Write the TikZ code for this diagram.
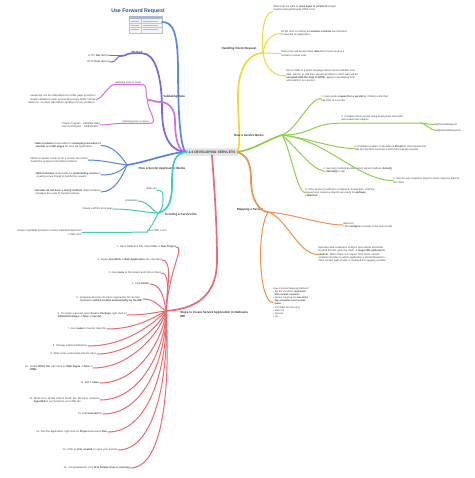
\documentclass[tikz,border=0pt]{standalone}
\usepackage{fontspec}
\setmainfont{Liberation Sans}
\definecolor{cblue}{HTML}{5B86E5}
\definecolor{cpurple}{HTML}{7468E0}
\definecolor{cmag}{HTML}{D670E0}
\definecolor{cblue2}{HTML}{5A82E0}
\definecolor{cteal}{HTML}{40CDB4}
\definecolor{cred}{HTML}{E86A72}
\definecolor{cyel}{HTML}{F0D83A}
\definecolor{cgreen}{HTML}{8DD14A}
\definecolor{corange}{HTML}{F2904F}
\definecolor{ftitle}{HTML}{2F5196}
\begin{document}
\begin{tikzpicture}[x=1pt,y=-1pt,
  every node/.style={inner sep=0.3pt, outer sep=0pt},
  ctext/.style={font=\fontsize{2.6}{3.3}\selectfont, align=left, text=#1},
  ctext/.default=black!75,
  stext/.style={font=\fontsize{2.4}{3.1}\selectfont, align=left, text=#1},
  stext/.default=black!75,
  lbl/.style={font=\fontsize{3}{3.6}\selectfont\bfseries, text=black!80},
  bline/.style={line width=1.7pt, line cap=round},
  cline/.style={line width=1.0pt, line cap=round}]
\useasboundingbox (0,0) rectangle (474,478);
\fill[white] (0,0) rectangle (474,478);

% ---------- centre ----------
\node[fill=gray!22, draw=gray!45, rounded corners=1pt, font=\fontsize{3.4}{4}\selectfont\bfseries, text=black!75, inner xsep=2pt, inner ysep=2pt] (C) at (212,152) {2.4 DEVELOPING SERVLETS};

% ---------- Use Forward Request ----------
\node[font=\fontsize{5.2}{6}\selectfont\bfseries, text=ftitle] (fwd) at (138,11) {Use Forward Request};
\node[draw=gray!50, fill=gray!8, minimum width=33pt, minimum height=17pt, anchor=north west] (tbl) at (129,16) {};
\fill[ftitle!40] (129.3,16.3) rectangle (161.7,19.5);
\foreach \yy in {23.5,27.5} \draw[gray!45, line width=0.3pt] (129,\yy) -- (162,\yy);
\draw[gray!45, line width=0.3pt] (141,19.5) -- (141,33);
\foreach \yy in {21.5,25.5,29.5} {
  \fill[gray!55] (130.5,\yy-0.4) rectangle (139,\yy+0.4);
  \fill[gray!55] (142.5,\yy-0.4) rectangle (158,\yy+0.4);}
\draw[bline,cblue] ([yshift=2.5pt]tbl.east) .. controls +(10,0) and +(0,-40) .. (178,70) .. controls +(0,45) and +(-6,0) .. (C.west);

% ---------- Method ----------
\node[lbl] (meth) at (137,52) {Method};
\coordinate (mj) at (121,56);
\draw[bline,cpurple] (C.west) .. controls +(-14,0) and +(0,30) .. (162,110) .. controls +(0,-35) and +(12,0) .. (meth.south east) -- (meth.south west) .. controls +(-5,0) and +(5,0) .. (mj);
\node[ctext, anchor=east] (get) at (110,56) {HTTP \textbf{Get} Method};
\node[ctext, anchor=east] (post) at (110,62) {HTTP \textbf{Post} Method};
\draw[cline,cpurple] (get.east) -- (mj);
\draw[cline,cpurple] (post.east) .. controls +(8,0) and +(-5,0) .. (mj);

% ---------- Validating Data ----------
\node[lbl] (val) at (174,97) {Validating Data};
\coordinate (vj) at (148,100);
\draw[bline,cmag] (C.west) .. controls +(-8,0) and +(0,20) .. (175,120) .. controls +(0,-12) and +(8,0) .. (160,102) .. controls +(-6,0) and +(5,0) .. (vj);
\node[stext] (vcl) at (128,83) {Validating Data on Client};
\node[ctext, align=right, anchor=east] (vct) at (96,99.5) {JavaScript can be embedded into HTML page to perform\\ simple validations such as checking empty fields, format,\\ dates etc. on client side before sending it to any problems.};
\draw[cline,cmag] (vj) .. controls +(-4,-4) and +(8,0) .. (vcl.south east) -- (vcl.south west) .. controls +(-6,0) and +(6,0) .. (vct.east);
\node[stext] (vsv) at (136,122) {Validating Data on Server};
\node[ctext, anchor=east] (vst) at (100,125) {• Check Program : Valid/Not Valid\\• Servlet Program : Valid/Invalid};
\draw[cline,cmag] (vj) .. controls +(-3,6) and +(10,0) .. (vsv.south east) -- (vsv.south west) .. controls +(-6,0) and +(6,0) .. (vst.east);

% ---------- How a Servlet Application Works ----------
\node[lbl] (app) at (162,169) {How a Servlet Application Works};
\coordinate (aj) at (127,165);
\draw[bline,cblue2] (C.west) .. controls +(-15,0) and +(20,-3) .. (aj);
\node[ctext, anchor=east] (a1) at (101,145.5) {• \textbf{Web Container} responsible for \textbf{managing execution of}\\\phantom{• }\textbf{servlets} and \textbf{JSP pages} for Java EE application.};
\node[ctext, anchor=east] (a2) at (88,160) {• When a request comes in for a servlet, the server\\\phantom{• }hands the request to the Web Container.};
\node[ctext, anchor=east] (a3) at (101,175) {• \textbf{Web Container} responsible for \textbf{instantiating servlet} or\\\phantom{• }creating a new thread to handle the request.};
\node[ctext, anchor=east] (a4) at (101,192) {• \textbf{Servlets do not have a main() method.} Web Container\\\phantom{• }manages the cycle of Servlet instance.};
\draw[cline,cblue2] (a1.east) .. controls +(12,0) and +(-5,-8) .. (aj);
\draw[cline,cblue2] (a2.east) .. controls +(15,0) and +(-10,-1) .. (aj);
\draw[cline,cblue2] (a3.east) .. controls +(14,0) and +(-6,6) .. (aj);
\draw[cline,cblue2] (a4.east) .. controls +(14,0) and +(-4,10) .. (aj);

% ---------- Creating a Servlet File ----------
\node[lbl] (csf) at (181,215) {Creating a Servlet File};
\coordinate (tj) at (158,213);
\draw[bline,cteal] (C.west) .. controls +(-12,2) and +(0,-25) .. (172,185) .. controls +(0,20) and +(8,-2) .. (tj);
\node[ctext, anchor=east] (wx) at (157,189) {Web.xml};
\draw[cline,cteal] (wx.south east) .. controls +(6,0) and +(0,-8) .. (163,200) .. controls +(0,8) and +(3,-2) .. (tj);
\node[ctext, anchor=east] (ann) at (138,201) {Annotation};
\draw[cline,cteal] (ann.east) .. controls +(10,0) and +(-8,-4) .. (tj);
\node[ctext, anchor=east] (chf) at (113,209) {Create a HTML form page};
\draw[cline,cteal] (chf.east) .. controls +(20,0) and +(-10,0) .. (tj);
\node[ctext, anchor=west] (uhf) at (147,231) {Use HTML Form};
\draw[cline,cteal] (tj) .. controls +(-3,8) and +(3,-4) .. (uhf.south west);
\node[ctext, align=right, anchor=east] (lws) at (82,232.5) {Create LoginWeb Servlet to receive submitted data from\\HTML form};
\draw[cline,cteal] (uhf.south west) .. controls +(-20,0) and +(20,0) .. (lws.east);

% ---------- Steps (red) ----------
\node[lbl, align=left, anchor=west] (steps) at (180,314.5) {Steps to Create Servlet Application in Netbeans\\IDE};
\coordinate (rj) at (166,311);
\draw[bline,cred] (C.south) .. controls +(2,30) and +(0,-40) .. (217,260) .. controls +(0,40) and +(25,-2) .. (rj);
\begin{scope}[every node/.append style={ctext=black!75, anchor=east}]
\node (s1) at (176,247) {1. Open Netbeans IDE, Select \textbf{File -> New Project}};
\node (s2) at (162,260) {2. Select \textbf{Java Web -> Web Application}, the click Next};
\node (s3) at (161,273) {3. Give \textbf{name} to the project and click on Next};
\node (s4) at (150,284) {4. Click \textbf{Finish}.};
\node (s5) at (143,299) {5. Complete directory structure required for the Servlet\\\phantom{5. }Application \textbf{will be created automatically by the IDE}.};
\node (s6) at (127,315) {6. To create a Servlet, open \textbf{Source Package}, right click on\\\textbf{Default Packages -> New -> Servlet}.};
\node (s7) at (107,329) {7. Give \textbf{name} to Servlet class file.};
\node (s8) at (88,346) {8. Change method definitions.};
\node (s9) at (97,354) {9. Write some code inside Servlet class.};
\node (s10) at (93,368) {10. Create \textbf{HTML file}, right click on \textbf{Web Pages -> New ->}\\\phantom{10. }\textbf{HTML}};
\node (s11) at (100,383) {11. Edit it \textbf{name}.};
\node (s12) at (100,400) {12. Write some simple code in HTML file. We have created a\\\phantom{12. }\textbf{hyperlink} to our Servlet in our HTML file.};
\node (s13) at (103,414) {13. Edit \textbf{web.xml} file.};
\node (s14) at (108,432) {14. Run the application, right click on \textbf{Project} and select \textbf{Run}.};
\node (s15) at (118,450) {15. Click on \textbf{first created}, to open your Servlet.};
\node (s16) at (130,468) {16. Congratulations! Your \textbf{first Servlet class is running}!};
\end{scope}
\draw[cline,cred] (s1.east) .. controls +(9,0) and +(4,-45) .. (rj);
\draw[cline,cred] (s2.east) .. controls +(9,0) and +(3,-35) .. (rj);
\draw[cline,cred] (s3.east) .. controls +(8,0) and +(2,-25) .. (rj);
\draw[cline,cred] (s4.east) .. controls +(10,0) and +(-2,-15) .. (rj);
\draw[cline,cred] (s5.east) .. controls +(12,0) and +(-8,-5) .. (rj);
\draw[cline,cred] (s6.east) .. controls +(18,0) and +(-15,2) .. (rj);
\draw[cline,cred] (s7.east) .. controls +(30,0) and +(-12,6) .. (rj);
\draw[cline,cred] (s8.east) .. controls +(40,0) and +(-10,10) .. (rj);
\draw[cline,cred] (s9.east) .. controls +(35,0) and +(-6,14) .. (rj);
\draw[cline,cred] (s10.east) .. controls +(40,0) and +(-4,18) .. (rj);
\draw[cline,cred] (s11.east) .. controls +(40,0) and +(-2,25) .. (rj);
\draw[cline,cred] (s12.east) .. controls +(45,0) and +(0,30) .. (rj);
\draw[cline,cred] (s13.east) .. controls +(45,0) and +(1,38) .. (rj);
\draw[cline,cred] (s14.east) .. controls +(45,0) and +(2,45) .. (rj);
\draw[cline,cred] (s15.east) .. controls +(40,0) and +(3,55) .. (rj);
\draw[cline,cred] (s16.east) .. controls +(35,0) and +(4,70) .. (rj);

% ---------- Handling Client Request (yellow) ----------
\node[lbl] (hcr) at (239,49) {Handling Client Request};
\coordinate (yj) at (263,53);
\draw[bline,cyel] (C.east) .. controls +(4,-10) and +(0,30) .. (238,95) .. controls +(0,-30) and +(-12,0) .. (yj);
\begin{scope}[every node/.append style={ctext=black!75, anchor=west}]
\node (y1) at (273,8.5) {Whenever we want to \textbf{send input to servlet} that input\\must be passed through HTML form.};
\node (y2) at (281,33.5) {HTML form is nothing but \textbf{various controls} are inherited\\to develop an application.};
\node (y3) at (281,53.5) {Every form will accept client \textbf{data} that it must send to a\\servlet on server side.};
\node (y4) at (286,76) {Since HTML is a static language which cannot validate user\\data. Hence, in real time JavaScript which is client side will be\\\textbf{accepted with the help of HTML}, apply to developing form\\and submit it to a servlet.};
\end{scope}
\draw[cline,cyel] (yj) .. controls +(-2,-25) and +(-8,0) .. (y1.south west);
\draw[cline,cyel] (yj) .. controls +(2,-14) and +(-8,0) .. (y2.west);
\draw[cline,cyel] (yj) .. controls +(6,0) and +(-6,0) .. (y3.west);
\draw[cline,cyel] (yj) .. controls +(3,18) and +(-10,0) .. (y4.west);

% ---------- How a Servlet Works (green) ----------
\node[lbl] (hsw) at (249,135) {How a Servlet Works};
\coordinate (gj) at (282,135);
\draw[bline,cgreen] (C.east) .. controls +(15,-2) and +(-15,5) .. (gj);
\begin{scope}[every node/.append style={ctext=black!75, anchor=west}]
\node (g1) at (321,98.5) {1. User sends \textbf{request for a servlet} by clicking a link that\\has URL to a servlet.};
\node (g2) at (341,118.5) {2. Container finds servlet using deployment descriptor\\and creates two objects};
\node (hreq) at (434,124.5) {HttpServletRequest};
\node (hres) at (436,130.5) {HttpServletResponse};
\node (g3) at (354,148.5) {3. Container creates or allocates \textbf{a thread} for that request and\\calls the Servlet's service() method and passes request.};
\node (g4) at (323,170.5) {4. Service() method decides which servlet method, \textbf{doGet()}\\or \textbf{doPost()} to call.};
\node (g5) at (393,180.5) {5. Servlet uses response object to write response back to\\the client.};
\node (g6) at (305,192.5) {6. After service() method is completed, thread dies. And the\\request and response objects are ready for \textbf{garbage}\\\textbf{collection}.};
\end{scope}
\coordinate (g2j) at (420,123);
\draw[cline,cgreen] (gj) .. controls +(15,-5) and +(-12,0) .. (g1.west);
\draw[cline,cgreen] (gj) .. controls +(30,0) and +(-30,0) .. ([yshift=-1.5pt]g2.south west) -- (g2j);
\draw[cline,cgreen] (g2j) .. controls +(6,0) and +(-6,0) .. (hreq.west);
\draw[cline,cgreen] (g2j) .. controls +(6,0) and +(-6,0) .. (hres.west);
\draw[cline,cgreen] (gj) .. controls +(25,3) and +(-20,0) .. (g3.west);
\draw[cline,cgreen] (gj) .. controls +(12,10) and +(-10,0) .. (g4.west);
\draw[cline,cgreen] (gj) .. controls +(45,5) and +(-35,0) .. (g5.west);
\draw[cline,cgreen] (gj) .. controls +(8,12) and +(-8,0) .. (g6.west);

% ---------- Mapping a Servlet (orange) ----------
\node[lbl] (mas) at (250,210) {Mapping a Servlet};
\coordinate (oj) at (268,212);
\draw[bline,corange] (C.east) .. controls +(8,3) and +(0,-20) .. (251,180) .. controls +(0,20) and +(-8,0) .. (oj);
\begin{scope}[every node/.append style={ctext=black!75, anchor=west}]
\node (o1) at (343,225) {Web.xml\\• \textbf{To configure} a servlet in the web.xml file};
\node (o2) at (318,254.5) {Specifies web containers of which java servlet should be\\invoked for URL given by client. It \textbf{maps URL patterns to}\\\textbf{servlets}. When there is a request from client, servlet\\container decides to which application it should forward to.\\Then context path of URL is matched for mapping servlets.};
\end{scope}
\node[stext, anchor=west] (o3) at (273,302.5) {How is Servlet Mapping Defined ?\\
• Servlet should be \textbf{registered}\\\phantom{• }\textbf{with servlet container.}\\
• Servlet mapping has \textbf{two child}\\\phantom{• }\textbf{tag, url-pattern and servlet-}\\\phantom{• }\textbf{name}.\\
• The WEB-INF Directory\\• Web.xml\\• Classes\\• Lib};
\draw[cline,corange] (oj) .. controls +(25,2) and +(-20,0) .. (o1.west);
\draw[cline,corange] (oj) .. controls +(18,5) and +(-20,0) .. (o2.west);
\draw[cline,corange] (oj) .. controls +(-12,20) and +(-14,0) .. (o3.west);
\end{tikzpicture}
\end{document}
